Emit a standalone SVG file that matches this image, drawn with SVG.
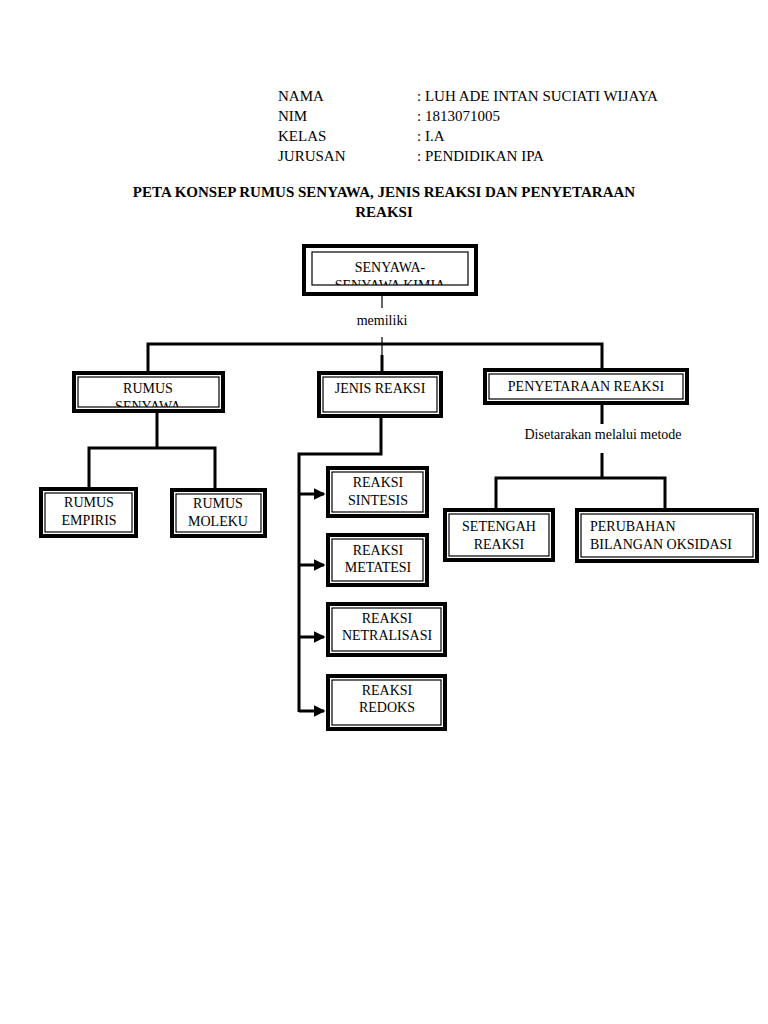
<svg xmlns="http://www.w3.org/2000/svg" width="768" height="1024" viewBox="0 0 768 1024">
<style>
text{font-family:"Liberation Serif",serif;font-size:14px;fill:#000}
.h{font-size:15px}
.t{font-size:15px;font-weight:bold}
.o{fill:#fff;stroke:#000;stroke-width:4}
.i{fill:none;stroke:#000;stroke-width:1.2}
.c{fill:none;stroke:#000;stroke-width:3}
.th{fill:none;stroke:#000;stroke-width:1.2}
</style>
<defs>
<marker id="a" markerWidth="4" markerHeight="4" refX="3.5" refY="2" orient="auto"><path d="M0,0L4,2L0,4Z" fill="#000"/></marker>
<clipPath id="c1"><rect x="312" y="252" width="156" height="33"/></clipPath>
<clipPath id="c2"><rect x="78" y="377" width="141" height="30"/></clipPath>
</defs>
<g id="header">
<text class="h" x="278" y="101">NAMA</text><text class="h" x="417" y="101">: LUH ADE INTAN SUCIATI WIJAYA</text>
<text class="h" x="278" y="121">NIM</text><text class="h" x="417" y="121">: 1813071005</text>
<text class="h" x="278" y="141">KELAS</text><text class="h" x="417" y="141">: I.A</text>
<text class="h" x="278" y="161">JURUSAN</text><text class="h" x="417" y="161">: PENDIDIKAN IPA</text>
<text class="t" x="384" y="197" text-anchor="middle">PETA KONSEP RUMUS SENYAWA, JENIS REAKSI DAN PENYETARAAN</text>
<text class="t" x="384" y="217" text-anchor="middle">REAKSI</text>
</g>
<g id="connectors">
<path class="th" d="M382,296V308M382,337V355"/>
<path class="c" d="M382,355V371M148,372V344H602V368"/>
<path class="c" d="M157,413V448M89,487V448H215V488"/>
<path class="c" d="M381,418V454H299V712"/>
<path class="c" marker-end="url(#a)" d="M299,494H324"/>
<path class="c" marker-end="url(#a)" d="M299,565H324"/>
<path class="c" marker-end="url(#a)" d="M299,637H324"/>
<path class="c" marker-end="url(#a)" d="M299,711H324"/>
<path class="c" d="M602,405V424M602,453V478M496,508V478H665V515"/>
<text x="382" y="325" text-anchor="middle" font-size="11">memiliki</text>
<text x="603" y="439" text-anchor="middle" font-size="11">Disetarakan melalui metode</text>
</g>
<g id="senyawa"><rect class="o" x="304" y="246" width="172" height="48"/><rect class="i" x="312" y="252" width="156" height="33"/>
<text x="390" y="272" text-anchor="middle">SENYAWA-</text><text x="390" y="290" text-anchor="middle" clip-path="url(#c1)">SENYAWA KIMIA</text></g>
<g id="rumus"><rect class="o" x="74" y="373" width="149" height="38"/><rect class="i" x="78" y="377" width="141" height="30"/>
<text x="148" y="393" text-anchor="middle">RUMUS</text><text x="148" y="411" text-anchor="middle" clip-path="url(#c2)">SENYAWA</text></g>
<g id="jenis"><rect class="o" x="319" y="373" width="122" height="43"/><rect class="i" x="323" y="377" width="114" height="35"/>
<text x="380" y="393" text-anchor="middle">JENIS REAKSI</text></g>
<g id="penyetaraan"><rect class="o" x="485" y="370" width="202" height="33"/><rect class="i" x="489" y="374" width="194" height="25"/>
<text x="586" y="391" text-anchor="middle">PENYETARAAN REAKSI</text></g>
<g id="empiris"><rect class="o" x="41" y="489" width="95" height="47"/><rect class="i" x="45" y="493" width="87" height="39"/>
<text x="89" y="507" text-anchor="middle">RUMUS</text><text x="89" y="525" text-anchor="middle">EMPIRIS</text></g>
<g id="moleku"><rect class="o" x="172" y="490" width="93" height="46"/><rect class="i" x="176" y="494" width="85" height="38"/>
<text x="218" y="508" text-anchor="middle">RUMUS</text><text x="218" y="526" text-anchor="middle">MOLEKU</text></g>
<g id="sintesis"><rect class="o" x="328" y="468" width="99" height="48"/><rect class="i" x="332" y="472" width="91" height="40"/>
<text x="378" y="487" text-anchor="middle">REAKSI</text><text x="378" y="505" text-anchor="middle">SINTESIS</text></g>
<g id="metatesi"><rect class="o" x="328" y="535" width="99" height="50"/><rect class="i" x="332" y="539" width="91" height="42"/>
<text x="378" y="555" text-anchor="middle">REAKSI</text><text x="378" y="572" text-anchor="middle">METATESI</text></g>
<g id="netralisasi"><rect class="o" x="328" y="604" width="117" height="51"/><rect class="i" x="332" y="608" width="109" height="43"/>
<text x="387" y="623" text-anchor="middle">REAKSI</text><text x="387" y="640" text-anchor="middle">NETRALISASI</text></g>
<g id="redoks"><rect class="o" x="328" y="676" width="117" height="53"/><rect class="i" x="332" y="680" width="109" height="45"/>
<text x="387" y="695" text-anchor="middle">REAKSI</text><text x="387" y="712" text-anchor="middle">REDOKS</text></g>
<g id="setengah"><rect class="o" x="445" y="510" width="108" height="50"/><rect class="i" x="449" y="514" width="100" height="42"/>
<text x="499" y="531" text-anchor="middle">SETENGAH</text><text x="499" y="549" text-anchor="middle">REAKSI</text></g>
<g id="perubahan"><rect class="o" x="577" y="510" width="180" height="51"/><rect class="i" x="581" y="514" width="172" height="43"/>
<text x="590" y="531">PERUBAHAN</text><text x="590" y="549">BILANGAN OKSIDASI</text></g>
</svg>
